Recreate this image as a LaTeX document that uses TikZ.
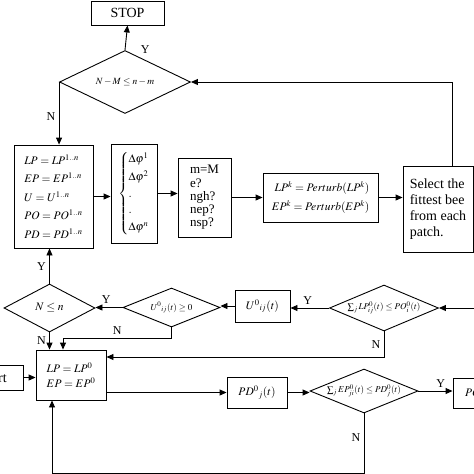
\documentclass[tikz,border=0pt]{standalone}
\usepackage{amsmath}
\usepackage{mathptmx}
\usepackage{fontspec}
\setmainfont{Liberation Serif}
\usetikzlibrary{arrows.meta,shapes.geometric,positioning}

\begin{document}
\begin{tikzpicture}[x=1pt,y=-1pt,line width=0.9pt,>={Triangle[length=7pt,width=6pt]},
  every node/.style={font=\fontsize{12}{14}\selectfont},
  box/.style={draw,rectangle,inner sep=0pt,align=center},
  cond/.style={draw,diamond,aspect=2,inner sep=0pt},
  yn/.style={font=\fontsize{12}{12}\selectfont}]
  \useasboundingbox (0,0) rectangle (474,474);
  \clip (0,0) rectangle (474,474);
  \node[box,minimum width=73pt,minimum height=24pt,font=\fontsize{14}{14}\selectfont] (stop) at (127.5,13) {STOP};
  \node[cond,minimum width=131pt,minimum height=63pt,font=\fontsize{9.5}{9.5}\selectfont] (d1) at (125,82) {$N-M\le n-m$};
  \node[box,minimum width=79pt,minimum height=103pt,align=left,font=\fontsize{11.5}{18.5}\selectfont] (lp) at (53.5,196.5) {$LP=LP^{1..n}$\\ $EP=EP^{1..n}$\\ $U=U^{1..n}$\\ $PO=PO^{1..n}$\\ $PD=PD^{1..n}$};
  \node[box,minimum width=46pt,minimum height=99pt,font=\fontsize{11.5}{12}\selectfont] (phi) at (134,193.5) {$\left\{\begin{array}{@{}l@{}}\Delta\varphi^1\\[4.5pt]\Delta\varphi^2\\[4.5pt].\\[4.5pt].\\[4.5pt]\Delta\varphi^n\end{array}\right.$};
  \node[box,minimum width=53pt,minimum height=79pt,align=left,font=\fontsize{13}{13.3}\selectfont] (mm) at (204.5,197.5) {m=M\\ e?\\ ngh?\\ nep?\\ nsp?};
  \node[box,minimum width=115pt,minimum height=49pt,align=right,font=\fontsize{11.5}{19}\selectfont] (pert) at (320.5,197.5) {$LP^k=Perturb(LP^k)$\\ $EP^k=Perturb(EP^k)$};
  \node[box,minimum width=70pt,minimum height=86pt,align=left,font=\fontsize{14}{16}\selectfont] (sel) at (438,209) {Select the\\ fittest bee\\ from each\\ patch.};
  \coordinate (fb) at (452,82);
  \draw[->] (d1.north) -- node[yn,pos=0,right=12pt] (y1) {Y} (stop.south);
  \draw[->] (fb |- sel.north) -- (fb) -- (d1.east);
  \draw[->] (d1.west) -- node[yn,left,pos=0.55] (n1) {N} (d1.west |- lp.north);
  \foreach \a/\b in {lp/phi,phi/mm,mm/pert,pert/sel}
    \draw[->] (\a.east) -- (\a.east -| \b.west);
  \node[cond,minimum width=91pt,minimum height=48pt,font=\fontsize{11.5}{12}\selectfont] (nle) at (49.5,308) {$N\le n$};
  \node[cond,minimum width=97pt,minimum height=39pt,font=\fontsize{9}{9}\selectfont] (ud) at (171.5,307.5) {$U^{0}{}_{ij}(t)\ge 0$};
  \node[box,minimum width=55pt,minimum height=32pt,font=\fontsize{11.5}{12}\selectfont] (ub) at (262.5,306) {$U^{0}{}_{ij}(t)$};
  \node[cond,minimum width=109pt,minimum height=46pt,font=\fontsize{9}{9}\selectfont] (sd1) at (384,308) {\makebox[0pt]{$\sum_j LP^0_{ij}(t)\le PO^0_i(t)$}};
  \coordinate (in1) at (490,308);
  \coordinate (uj) at (63,338);
  \coordinate (sj) at (384,357);
  \node[box,minimum width=59pt,minimum height=25pt,font=\fontsize{14}{14}\selectfont] (start) at (-6.5,377.5) {Start};
  \node[box,minimum width=70pt,minimum height=50pt,align=left,font=\fontsize{11.5}{15}\selectfont] (lp0) at (71,375) {$LP=LP^0$\\ $EP=EP^0$};
  \node[box,minimum width=60pt,minimum height=31pt,font=\fontsize{11.5}{12}\selectfont] (pd) at (257,392.5) {$PD^{0}{}_j(t)$};
  \node[cond,minimum width=108pt,minimum height=44pt,font=\fontsize{9}{9}\selectfont] (sd2) at (364,391) {\makebox[0pt]{$\sum_j EP^0_{ji}(t)\le PD^0_j(t)$}};
  \node[box,minimum width=60pt,minimum height=30pt,font=\fontsize{11.5}{12}\selectfont] (pb) at (483,393) {$PO^{0}{}_i(t)$};
  \coordinate (bj) at (52,473);
  \draw[->] (nle.north) -- node[yn,left,pos=0.47] (y2) {Y} (nle.north |- lp.south);
  \draw[->] (nle.south) -- node[yn,left] (n2) {N} (nle.south |- lp0.north);
  \draw[->] (ud.west) -- node[yn,above,pos=0.6] (y3) {Y} (ud.west -| nle.east);
  \draw[->] (ud.south) |- node[yn,above,pos=0.75] (n3) {N} (uj) -- (uj |- lp0.north);
  \draw[->] (ub.west) -- (ub.west -| ud.east);
  \draw[->] (sd1.west) -- node[yn,above,pos=0.55] (y4) {Y} (sd1.west -| ub.east);
  \draw[->] (in1) -- (sd1.east);
  \draw[->] (sd1.south) -- node[yn,left] (n4) {N} (sj) -- (sj -| lp0.east);
  \draw[->] (start.east) -- (start.east -| lp0.west);
  \draw[->] (lp0.east |- pd.west) -- (pd.west);
  \draw[->] (pd.east) -- (pd.east -| sd2.west);
  \draw[->] (sd2.east) -- node[yn,above,pos=0.65] (y5) {Y} (sd2.east -| pb.west);
  \draw[->] (sd2.south) |- node[yn,left,pos=0.2] (n5) {N} (bj) -- (bj |- lp0.south);
\end{tikzpicture}
\end{document}
